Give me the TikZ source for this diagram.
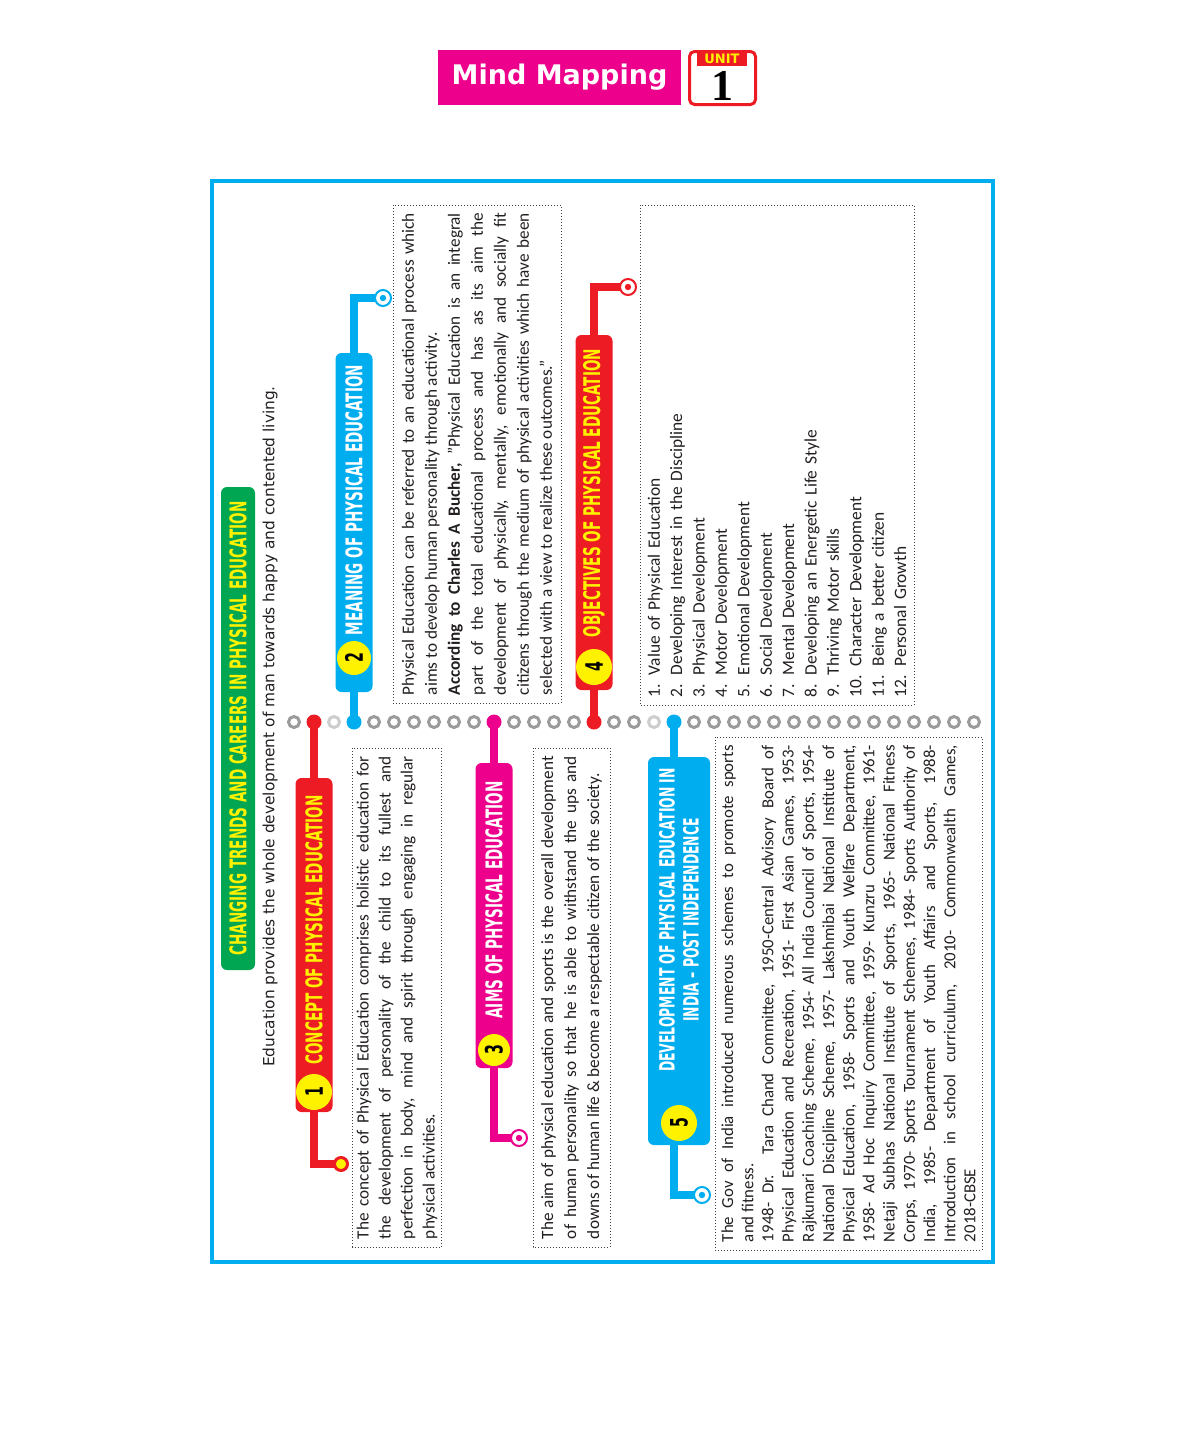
\documentclass[tikz,border=0pt]{standalone}
\usepackage{fontspec}
\setmainfont{Carlito}
\newfontfamily\bannerfont[FakeStretch=0.59]{DejaVu Sans}
\newfontfamily\headfont{DejaVu Sans}
\newfontfamily\unitfont{Liberation Serif}
\usetikzlibrary{backgrounds}

\definecolor{pered}{HTML}{ED1C24}
\definecolor{peblue}{HTML}{00AEEF}
\definecolor{pemag}{HTML}{EC008C}
\definecolor{pegreen}{HTML}{00A651}
\definecolor{peyellow}{HTML}{FFF200}
\definecolor{ringgrey}{HTML}{9A9A9A}
\definecolor{ringpale}{HTML}{CDCDCD}
\definecolor{inktext}{HTML}{231F20}

\tikzset{
  dotgray/.style={circle, draw=ringgrey, fill=white, line width=1.5pt, minimum size=5.5pt, inner sep=0pt},
  dotlight/.style={dotgray, draw=ringpale},
  hubred/.style={circle, fill=pered, minimum size=7.5pt, inner sep=0pt},
  hubblue/.style={hubred, fill=peblue},
  hubmag/.style={hubred, fill=pemag},
  stem/.style={draw=#1, line width=4pt},
  pill/.style={rotate=90, fill=#1, rounded corners=3pt, inner sep=0pt, minimum height=18.5pt,
    font=\bannerfont\bfseries\fontsize{11.5}{12}\selectfont},
  numdisc/.style={circle, fill=peyellow, inner sep=0pt, rotate=90,
    font=\bannerfont\bfseries\fontsize{12}{12}\selectfont},
  endring/.style={circle, draw=#1, fill=white, line width=1pt, minimum size=8pt, inner sep=0pt,
    path picture={\fill[#1] (path picture bounding box.center) circle (1.6pt);}},
  endyellow/.style={circle, draw=pered, fill=peyellow, line width=1.5pt, minimum size=6.5pt, inner sep=0pt},
  bodybox/.style={rotate=90, draw=black!75, densely dotted, line width=0.5pt, inner xsep=4pt,
    inner ysep=2pt, align=justify, text=inktext},
}

\begin{document}
\begin{tikzpicture}[x=0.5pt, y=-0.5pt]
  \useasboundingbox (0,0) rectangle (1200,1440);

  % header
  \node[fill=pemag, minimum width=121.5pt, minimum height=27.5pt, text=white,
    font=\headfont\bfseries\fontsize{13.5}{14}\selectfont] (mm) at (559.5,77.5) {Mind Mapping};
  \node[draw=pered, line width=1.5pt, rounded corners=2.5pt, minimum width=33pt,
    minimum height=26.5pt] (unit) at (722.5,78) {};
  \node[fill=pered, minimum width=25pt, minimum height=7pt, inner sep=0pt, text=peyellow,
    font=\headfont\bfseries\fontsize{6.5}{7}\selectfont] (unittab) at (722,59) {UNIT};
  \node[inner sep=0pt, font=\unitfont\bfseries\fontsize{22}{22}\selectfont] (unitno) at (722,86) {1};

  % frame
  \draw[peblue, line width=2pt] (212,181) rectangle (993,1262);

  % title and subtitle
  \node[pill=pegreen, text=peyellow, minimum width=241.5pt, minimum height=17pt] (title)
    at (238,728.5) {CHANGING TRENDS AND CAREERS IN PHYSICAL EDUCATION};
  \node[rotate=90, inner sep=0pt, text=inktext, font=\headfont\fontsize{7.7}{8}\selectfont] (sub)
    at (270,726.5) {Education provides the whole development of man towards happy and contented living.};

  % timeline
  \foreach \i in {0,...,34}{
    \def\dotstyle{dotgray}
    \ifnum\i=2 \def\dotstyle{dotlight}\fi
    \ifnum\i=18 \def\dotstyle{dotlight}\fi
    \ifnum\i=1 \def\dotstyle{hubred}\fi
    \ifnum\i=15 \def\dotstyle{hubred}\fi
    \ifnum\i=3 \def\dotstyle{hubblue}\fi
    \ifnum\i=19 \def\dotstyle{hubblue}\fi
    \ifnum\i=10 \def\dotstyle{hubmag}\fi
    \node[\dotstyle] (t\i) at ({294+20*\i},722) {};
  }

  % branches
  \node[pill=pered, text=peyellow, minimum width=167pt] (concept) at (314,945)
    {\hspace*{15pt}CONCEPT OF PHYSICAL EDUCATION};
  \node[pill=peblue, text=white, minimum width=169.5pt] (meaning) at (354,522.5)
    {\hspace*{22.5pt}MEANING OF PHYSICAL EDUCATION};
  \node[pill=pemag, text=white, minimum width=152.5pt] (aims) at (494,915.5)
    {\hspace*{15.5pt}AIMS OF PHYSICAL EDUCATION};
  \node[pill=pered, text=peyellow, minimum width=177.5pt] (objectives) at (594,512.5)
    {\hspace*{19.5pt}OBJECTIVES OF PHYSICAL EDUCATION};
  \node[pill=peblue, text=white, minimum width=194pt, minimum height=31pt, align=center,
    font=\bannerfont\bfseries\fontsize{10.5}{12}\selectfont] (development) at (679,951)
    {\hspace*{31pt}DEVELOPMENT OF PHYSICAL EDUCATION IN\\\hspace*{31pt}INDIA – POST INDEPENDENCE};

  \node[numdisc, minimum size=18pt] (n1) at (314,1092) {1};
  \node[numdisc, minimum size=17pt] (n2) at (354,658) {2};
  \node[numdisc, minimum size=16pt] (n3) at (494,1050) {3};
  \node[numdisc, minimum size=18pt] (n4) at (594,667) {4};
  \node[numdisc, minimum size=18pt] (n5) at (679,1123) {5};

  \node[endyellow] (e1) at (341,1164) {};
  \node[endring=peblue] (e2) at (383,298) {};
  \node[endring=pemag] (e3) at (519,1138) {};
  \node[endring=pered] (e4) at (628,287) {};
  \node[endring=peblue] (e5) at (702,1195) {};

  \begin{scope}[on background layer]
    \draw[stem=pered] (t1.center) -- (concept.east);
    \draw[stem=pered] (concept.west) |- (e1.center);
    \draw[stem=peblue] (t3.center) -- (meaning.west);
    \draw[stem=peblue] (meaning.east) |- (e2.center);
    \draw[stem=pemag] (t10.center) -- (aims.east);
    \draw[stem=pemag] (aims.west) |- (e3.center);
    \draw[stem=pered] (t15.center) -- (objectives.west);
    \draw[stem=pered] (objectives.east) |- (e4.center);
    \draw[stem=peblue] (t19.center) -- (t19 |- development.east);
    \draw[stem=peblue] (t19 |- development.west) |- (e5.center);
  \end{scope}

  % text boxes
  \node[bodybox, text width=241.5pt, minimum height=44pt, font=\fontsize{8.6}{11}\selectfont] (b1)
    at (397,997.5) {The concept of Physical Education comprises holistic education for\linebreak
    the development of personality of the child to its fullest and\linebreak
    perfection in body, mind and spirit through engaging in regular\linebreak
    physical activities.};
  \node[bodybox, text width=241pt, minimum height=84pt, font=\fontsize{8.6}{11.5}\selectfont] (b2)
    at (477,454) {Physical Education can be referred to an educational process which\linebreak
    aims to develop human personality through activity.\par
    \textbf{According to Charles A Bucher,} "Physical Education is an integral\linebreak
    part of the total educational process and has as its aim the\linebreak
    development of physically, mentally, emotionally and socially fit\linebreak
    citizens through the medium of physical activities which have been\linebreak
    selected with a view to realize these outcomes.”};
  \node[bodybox, text width=241.5pt, minimum height=38.5pt, font=\fontsize{8.6}{11.5}\selectfont] (b3)
    at (571.5,997.5) {The aim of physical education and sports is the overall development\linebreak
    of human personality so that he is able to withstand the ups and\linebreak
    downs of human life \& become a respectable citizen of the society.};
  \node[bodybox, align=left, text width=242pt, minimum height=137pt, font=\fontsize{8.7}{11.2}\selectfont] (b4)
    at (777,455) {1.\enspace Value of Physical Education\\
    2.\enspace Developing Interest in the Discipline\\
    3.\enspace Physical Development\\
    4.\enspace Motor Development\\
    5.\enspace Emotional Development\\
    6.\enspace Social Development\\
    7.\enspace Mental Development\\
    8.\enspace Developing an Energetic Life Style\\
    9.\enspace Thriving Motor skills\\
    10.\enspace Character Development\\
    11.\enspace Being a better citizen\\
    12.\enspace Personal Growth};
  \node[bodybox, text width=248.5pt, minimum height=133.5pt, font=\fontsize{8.4}{10.1}\selectfont] (b5)
    at (848.5,993.5) {The Gov of India introduced numerous schemes to promote sports\linebreak
    and fitness.\par
    1948- Dr. Tara Chand Committee, 1950-Central Advisory Board of\linebreak
    Physical Education and Recreation, 1951- First Asian Games, 1953-\linebreak
    Rajkumari Coaching Scheme, 1954- All India Council of Sports, 1954-\linebreak
    National Discipline Scheme, 1957- Lakshmibai National Institute of\linebreak
    Physical Education, 1958- Sports and Youth Welfare Department,\linebreak
    1958- Ad Hoc Inquiry Committee, 1959- Kunzru Committee, 1961-\linebreak
    Netaji Subhas National Institute of Sports, 1965- National Fitness\linebreak
    Corps, 1970- Sports Tournament Schemes, 1984- Sports Authority of\linebreak
    India, 1985- Department of Youth Affairs and Sports, 1988-\linebreak
    Introduction in school curriculum, 2010- Commonwealth Games,\linebreak
    2018-CBSE};
\end{tikzpicture}
\end{document}
